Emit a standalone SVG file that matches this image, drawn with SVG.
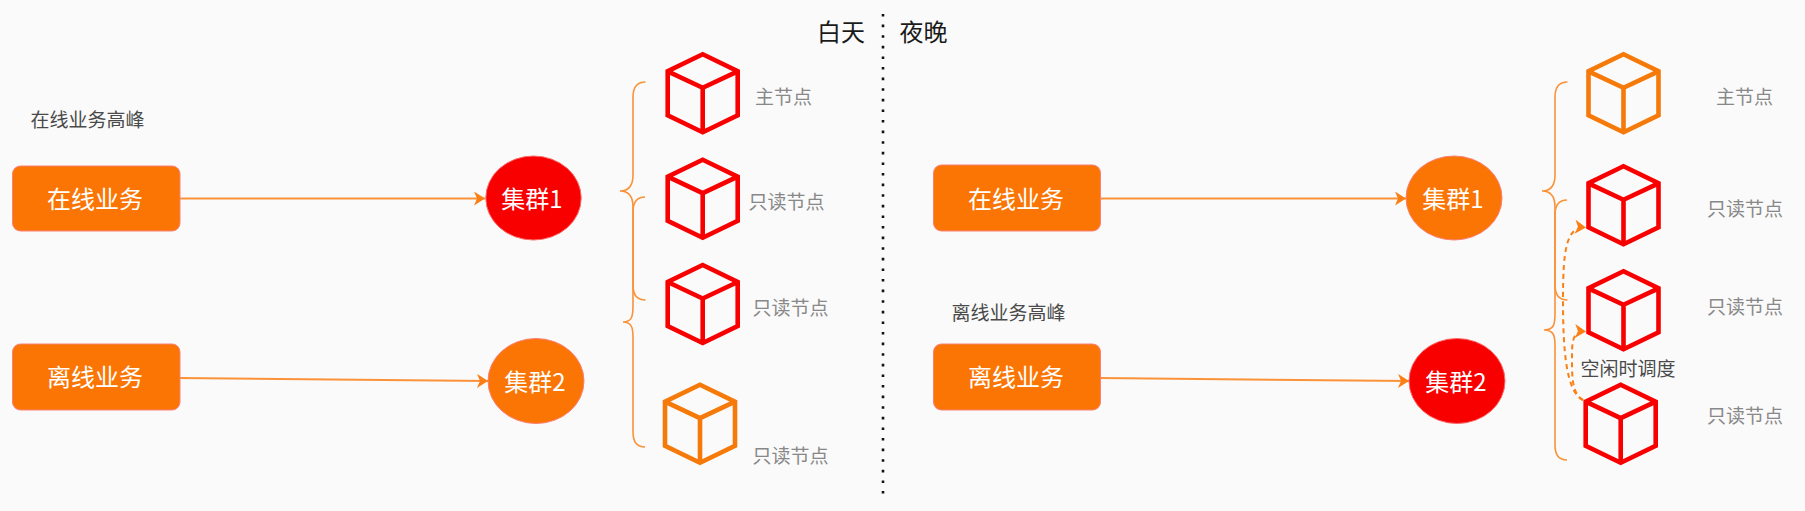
<svg xmlns="http://www.w3.org/2000/svg" xmlns:xlink="http://www.w3.org/1999/xlink" width="1805" height="511" viewBox="0 0 1805 511">
<style>
text{font-family:"Noto Sans CJK SC","Noto Sans",sans-serif;text-anchor:middle;dominant-baseline:central}
.box{fill:#fb7504;stroke:#fa8078;stroke-width:1}
.o{fill:#fb7504;stroke:#fa8078;stroke-width:1}
.r{fill:#f90000;stroke:#fb6a6a;stroke-width:1}
.w{fill:#fff;font-size:24px}
.g{fill:#888;font-size:19px}
.d{fill:#4a4a4a;font-size:19px}
.t{fill:#1a1a1a;font-size:24px}
.cube{fill:none;stroke-width:4.600;stroke-linejoin:miter}
.cr{stroke:#f80000}
.co{stroke:#f57a0a}
.br{fill:none;stroke:#fb9238;stroke-width:1.600}
.ln{fill:none;stroke:#fb9238;stroke-width:2}
.ds{fill:none;stroke:#fb7f14;stroke-width:2;stroke-dasharray:5 4}
</style>
<defs>
<marker id="ah" markerUnits="userSpaceOnUse" markerWidth="14" markerHeight="16" refX="12" refY="7" orient="auto"><path d="M1 0 L12 7 L1 14 L4 7 Z" fill="#fb7f14"/></marker>
<g id="cb"><path d="M0 0 L35 17 V61 L0 78 L-35 61 V17 Z M-35 17 L0 33.500 L35 17 M0 33.500 V78"/></g>
</defs>
<rect width="1805" height="511" fill="#fafafa"/>
<g id="connectors">
<path class="ln" marker-end="url(#ah)" d="M180 198.500 H485"/>
<path class="ln" marker-end="url(#ah)" d="M180 378 L488 381"/>
<path class="ln" marker-end="url(#ah)" d="M1100 198.500 H1406"/>
<path class="ln" marker-end="url(#ah)" d="M1100 378 L1409 381"/>
<path class="br" d="M645.500 82 C637 82 633 87 633 97 V175 C633 185 629 191 620 191 C629 191 633 197 633 207 V285 C633 295 637 300 645.500 300"/>
<path class="br" d="M645 197 C637 197 633 202 633 212 V306 C633 316 632 322 623 322 C632 322 633 328 633 338 V432 C633 442 637 447 645 447"/>
<path class="br" d="M1567.500 82 C1559 82 1555 87 1555 97 V175 C1555 185 1551 191 1542 191 C1551 191 1555 197 1555 207 V285 C1555 295 1559 300 1567.500 300"/>
<path class="br" d="M1567 200 C1559 200 1555 205 1555 215 V314 C1555 324 1554 330 1544 330 C1554 330 1555 336 1555 346 V445 C1555 455 1559 460 1567 460"/>
<path class="ds" marker-end="url(#ah)" d="M1583 400 C1566 392 1563 350 1563 300 C1563 250 1566 226 1586 227.500"/>
<path class="ds" marker-end="url(#ah)" d="M1583 400 C1571 394 1572 372 1572 355 C1572 338 1574 331 1586 331.500"/>
<path fill="none" stroke="#111" stroke-width="2.600" stroke-dasharray="2.600 8" d="M883 14 V497"/>
</g>
<g id="label-day"><text class="t" x="841" y="30">白天</text></g>
<g id="label-night"><text class="t" x="923.500" y="30">夜晚</text></g>
<g id="note-online"><text class="d" x="87.500" y="118.500">在线业务高峰</text></g>
<g id="note-offline"><text class="d" x="1008.500" y="311.500">离线业务高峰</text></g>
<g id="day-online"><rect class="box" x="12.500" y="166" width="167.500" height="65" rx="8"/><text class="w" x="95" y="197">在线业务</text></g>
<g id="day-offline"><rect class="box" x="12.500" y="344" width="167.500" height="66" rx="8"/><text class="w" x="95" y="375">离线业务</text></g>
<g id="night-online"><rect class="box" x="933.500" y="165" width="167" height="66" rx="8"/><text class="w" x="1016" y="197">在线业务</text></g>
<g id="night-offline"><rect class="box" x="933.500" y="344" width="167" height="66" rx="8"/><text class="w" x="1016" y="375">离线业务</text></g>
<g id="day-cluster1"><ellipse class="r" cx="533.500" cy="198" rx="47.700" ry="42"/><text class="w" x="532" y="197">集群1</text></g>
<g id="day-cluster2"><ellipse class="o" cx="536" cy="381" rx="48" ry="42.500"/><text class="w" x="535" y="380">集群2</text></g>
<g id="night-cluster1"><ellipse class="o" cx="1454" cy="198" rx="48" ry="42"/><text class="w" x="1453" y="197">集群1</text></g>
<g id="night-cluster2"><ellipse class="r" cx="1457" cy="381" rx="48" ry="42.500"/><text class="w" x="1456" y="380">集群2</text></g>
<g id="day-node1"><use href="#cb" class="cube cr" x="702.700" y="54.300"/><text class="g" x="783.500" y="95">主节点</text></g>
<g id="day-node2"><use href="#cb" class="cube cr" x="702.700" y="159.700"/><text class="g" x="786.500" y="200.500">只读节点</text></g>
<g id="day-node3"><use href="#cb" class="cube cr" x="702.700" y="265"/><text class="g" x="790.500" y="306">只读节点</text></g>
<g id="day-node4"><use href="#cb" class="cube co" x="700" y="384.700"/><text class="g" x="790.500" y="454.500">只读节点</text></g>
<g id="night-node1"><use href="#cb" class="cube co" x="1623.500" y="54.300"/><text class="g" x="1744.500" y="95">主节点</text></g>
<g id="night-node2"><use href="#cb" class="cube cr" x="1623.500" y="166.300"/><text class="g" x="1745" y="207">只读节点</text></g>
<g id="night-node3"><use href="#cb" class="cube cr" x="1623.500" y="271.300"/><text class="g" x="1745" y="305.500">只读节点</text></g>
<g id="night-node4"><use href="#cb" class="cube cr" x="1620.700" y="384.700"/><text class="g" x="1745" y="414.500">只读节点</text></g>
<g id="note-idle"><text class="d" x="1628" y="367">空闲时调度</text></g>
</svg>
